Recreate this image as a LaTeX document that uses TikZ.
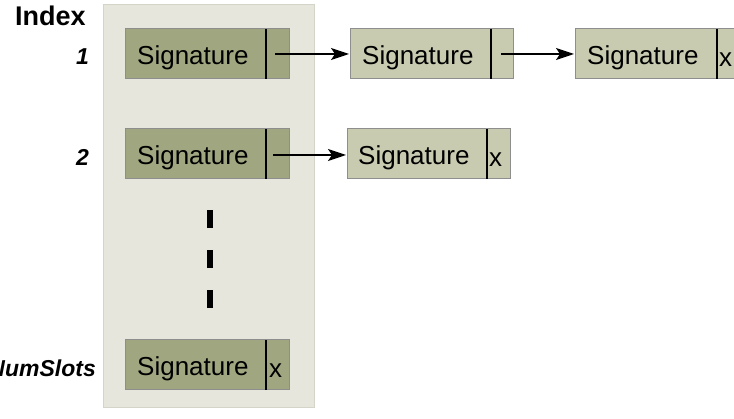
\documentclass[tikz,border=0pt]{standalone}
\usepackage{fontspec}
\setmainfont{Liberation Sans}
\usetikzlibrary{arrows.meta}
\definecolor{panel}{HTML}{E6E6DC}
\definecolor{panelb}{HTML}{D4D4C8}
\definecolor{darkbox}{HTML}{A0A67F}
\definecolor{lightbox}{HTML}{C8CBAF}
\definecolor{boxb}{HTML}{8E8E8E}
\tikzset{
 sig/.style={draw=boxb, line width=1pt, minimum height=50pt, inner sep=0pt},
 lbl/.style={font=\fontsize{26}{28}\selectfont, anchor=west, inner sep=0pt},
 idx/.style={font=\fontsize{23}{25}\selectfont\bfseries\itshape, anchor=east, inner sep=0pt},
 arr/.style={-{Stealth[length=18pt,width=12pt,inset=4pt]}, line width=1.2pt},
 dashseg/.style={line width=6pt}
}
\begin{document}
\begin{tikzpicture}[x=1pt,y=-1pt]
\clip (0,0) rectangle (734,419);
\useasboundingbox (0,0) rectangle (734,419);
\fill[white] (0,0) rectangle (734,419);
\draw[fill=panel, draw=panelb, line width=1pt] (103,5) rectangle (314,408);
% left column
\foreach \n/\y in {a/29,b/129,c/340}{
 \draw[sig, fill=darkbox] (125,\y) rectangle (289,\y+50);
 \draw[line width=1.5pt] (266,\y) -- (266,\y+50);
 \node[lbl] (\n) at (137,\y+29) {Signature};
}
\node[lbl] (cx) at (269,371) {x};
% row 1
\draw[sig, fill=lightbox] (350,29) rectangle (513,79);
\draw[line width=1.5pt] (491,29) -- (491,79);
\node[lbl] (r1a) at (362,58) {Signature};
\draw[sig, fill=lightbox] (575,29) rectangle (740,79);
\draw[line width=1.5pt] (717,29) -- (717,79);
\node[lbl] (r1b) at (587,58) {Signature};
\node[lbl] (r1x) at (719,60) {x};
% row 2
\draw[sig, fill=lightbox] (347,129) rectangle (510,179);
\draw[line width=1.5pt] (487,129) -- (487,179);
\node[lbl] (r2a) at (358,158) {Signature};
\node[lbl] (r2x) at (489,160) {x};
% arrows
\coordinate (s1) at (275,54); \coordinate (e1) at (349,54);
\coordinate (s2) at (501,54); \coordinate (e2) at (574,54);
\coordinate (s3) at (273,155); \coordinate (e3) at (346,155);
\draw[arr] (s1) -- (e1);
\draw[arr] (s2) -- (e2);
\draw[arr] (s3) -- (e3);
% dashes
\draw[dashseg] (210,210) -- (210,228);
\draw[dashseg] (210,250) -- (210,268);
\draw[dashseg] (210,290) -- (210,308);
% labels
\node[font=\fontsize{27}{29}\selectfont\bfseries, anchor=west, inner sep=0pt] (ix) at (15,16) {Index};
\node[idx] (i1) at (89,57) {1};
\node[idx] (i2) at (89,157) {2};
\node[idx] (in) at (96,368) {NumSlots};
\end{tikzpicture}
\end{document}
